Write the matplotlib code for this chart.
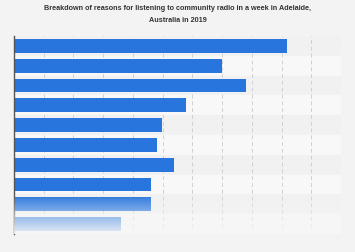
import numpy as np
import matplotlib.pyplot as plt

# reasons are hidden in the source chart (paywalled), only bar lengths are visible
reasons = ["Reason 1", "Reason 2", "Reason 3", "Reason 4", "Reason 5",
           "Reason 6", "Reason 7", "Reason 8", "Reason 9", "Reason 10"]
shares = [46.0, 35.0, 39.1, 29.0, 24.9, 24.1, 26.9, 23.1, 23.1, 18.0]
x_ticks = [0, 5, 10, 15, 20, 25, 30, 35, 40, 45, 50, 55]

bg = "#f3f3f3"
fig = plt.figure(figsize=(3.55, 2.53), dpi=100, facecolor=bg)
ax = fig.add_axes([14 / 355, 1 - 235 / 253, 327 / 355, 198 / 253])
ax.set_facecolor(bg)

ypos = np.arange(len(reasons))
for i in ypos:
    ax.axhspan(i - 0.5, i + 0.5, color="#f1f1f1" if i % 2 == 0 else "#f8f8f8", zorder=0)

ax.barh(ypos, shares, height=0.7, color="#2876dd", zorder=3)

ax.set_xticks(x_ticks)
ax.set_xticklabels([])
ax.set_yticks(ypos)
ax.set_yticklabels([])
ax.tick_params(length=0)
ax.grid(axis="x", color="#d0d0d0", linestyle=(0, (4, 3)), linewidth=0.7, zorder=1)
for s in ["top", "right", "bottom"]:
    ax.spines[s].set_visible(False)
ax.spines["left"].set_color("#555555")
ax.spines["left"].set_linewidth(1.0)
ax.spines["left"].set_zorder(4)

# paywall fade over the lower rows
n = 200
alpha = np.linspace(0, 1, n) ** 0.9 * 0.92
fade = np.zeros((n, 2, 4))
fade[..., :3] = np.array([0.965, 0.965, 0.965])
fade[..., 3] = alpha[:, None]
ax.imshow(fade, extent=[0, 55, 9.5, 7.55], aspect="auto", zorder=5,
          interpolation="bilinear")
ax.set_xlim(0, 55)
ax.set_ylim(len(reasons) - 0.5, -0.5)

title_font = dict(ha="center", va="center", fontsize=5.2, fontweight="bold",
                  color="#333333", family=["Liberation Sans", "DejaVu Sans"])
fig.text(0.5, 1 - 9 / 253,
         "Breakdown of reasons for listening to community radio in a week in Adelaide,",
         **title_font)
fig.text(0.5, 1 - 21 / 253, "Australia in 2019", **title_font)

fig.savefig("out.png", dpi=100, facecolor=bg)
